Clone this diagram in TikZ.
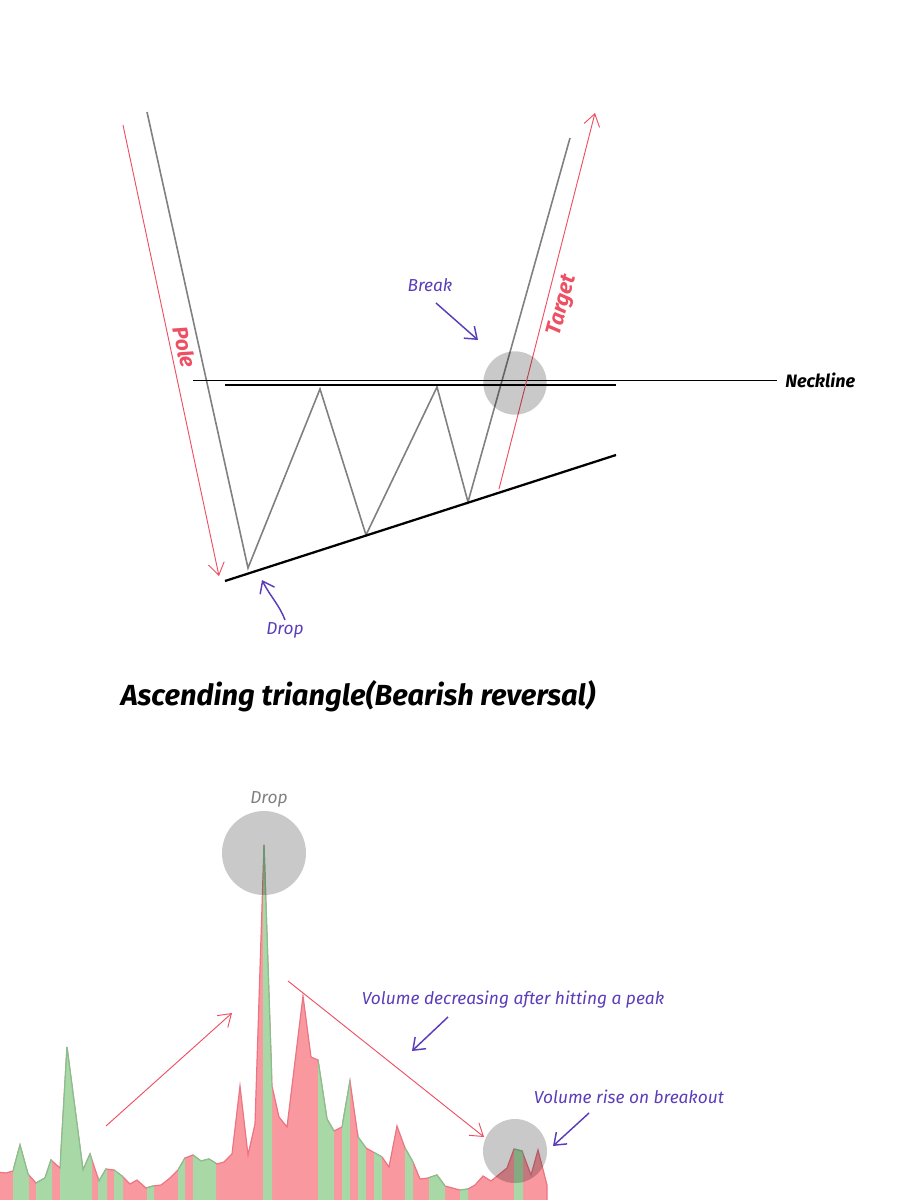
\documentclass[tikz,border=0pt]{standalone}
\usepackage{fontspec}
\setmainfont{Fira Sans}
\usetikzlibrary{arrows.meta}
\definecolor{volpink}{HTML}{F9989F}
\definecolor{volpinkline}{HTML}{EC7483}
\definecolor{volgreen}{HTML}{A8D8A6}
\definecolor{volgreenline}{HTML}{86C08E}
\definecolor{arrowred}{HTML}{EE4F62}
\definecolor{notepurple}{HTML}{5B3DB8}
\definecolor{pricegray}{HTML}{808080}
\newcommand{\volpath}{(-3,1203) -- (-3,1172) -- (6,1173) -- (13,1171) -- (20,1145) -- (28,1174) -- (36,1183) -- (45,1178) -- (51,1160) -- (60,1168) -- (67,1047) -- (83,1170) -- (90,1154) -- (99,1181) -- (106,1169) -- (114,1170) -- (122,1176) -- (130,1184) -- (137,1180) -- (146,1188) -- (153,1186) -- (161,1185) -- (170,1178) -- (178,1170) -- (185,1158) -- (193,1155) -- (201,1161) -- (209,1159) -- (217,1164) -- (224,1162) -- (232,1154) -- (240,1086) -- (248,1155) -- (255,1124) -- (264,845) -- (272,1086) -- (279,1117) -- (287,1127) -- (303,996) -- (311,1057) -- (318,1060) -- (327,1119) -- (334,1131) -- (342,1127) -- (350,1081) -- (358,1137) -- (366,1148) -- (382,1157) -- (389,1167) -- (397,1126) -- (405,1148) -- (413,1162) -- (420,1179) -- (428,1178) -- (437,1175) -- (445,1186) -- (460,1190) -- (468,1189) -- (475,1185) -- (483,1176) -- (491,1181) -- (507,1168) -- (514,1149) -- (522,1151) -- (531,1175) -- (538,1150) -- (547,1185) -- (547,1203)}
\begin{document}
\begin{tikzpicture}[x=0.75pt,y=-0.75pt]
\tikzstyle{price} = [draw=pricegray, line width=1.2pt]
\tikzstyle{trendline} = [draw=black, line width=1.7pt]
\tikzstyle{measure} = [draw=arrowred, line width=0.7pt, -{Straight Barb[length=9pt,width=12pt]}]
\tikzstyle{note} = [draw=notepurple, line width=1.1pt, -{Straight Barb[length=8pt,width=12pt]}]
\tikzstyle{zone} = [circle, fill=black, fill opacity=0.21, inner sep=0pt]
\tikzstyle{notetext} = [text=notepurple, font=\itshape\fontsize{13}{15}\selectfont, inner sep=0pt]
\tikzstyle{redtext} = [text=arrowred, font=\itshape\bfseries\fontsize{16}{18}\selectfont, inner sep=0pt]
\useasboundingbox (0,0) rectangle (899,1200);

% volume
\fill[volpink] \volpath;
\draw[volpinkline, line width=0.9pt] \volpath;
\foreach \a/\b in {13/29, 36/52, 60/92, 98/107, 114/123, 147/154, 178/185, 193/216, 263/272, 318/334, 342/350, 358/366, 374/382, 405/413, 429/445, 460/468, 514/523} {
  \begin{scope}
    \clip (\a,800) rectangle (\b,1200);
    \fill[volgreen] \volpath;
    \draw[volgreenline, line width=0.9pt] \volpath;
  \end{scope}
}

% pattern
\coordinate (p0) at (147,112);
\coordinate (p1) at (248,568);
\coordinate (p2) at (320,389);
\coordinate (p3) at (366,535);
\coordinate (p4) at (437,387);
\coordinate (p5) at (468,502);
\coordinate (p6) at (570,138);
\draw[price] (p0) -- (p1) -- (p2) -- (p3) -- (p4) -- (p5) -- (p6);

\coordinate (neckA) at (193,380);
\coordinate (neckB) at (777,380);
\node[anchor=west, inner sep=0pt, font=\itshape\bfseries\fontsize{13.5}{15}\selectfont] (neck) at (785,380) {Neckline};
\draw[black, line width=0.6pt] (neckA) -- (neckB);

\coordinate (resA) at (225,385);
\coordinate (resB) at (616,385);
\coordinate (supA) at (225,581);
\coordinate (supB) at (616,455);
\draw[trendline] (resA) -- (resB);
\draw[trendline] (supA) -- (supB);

\coordinate (poleA) at (123,125);
\coordinate (poleB) at (219,576);
\coordinate (targetA) at (499,489);
\coordinate (targetB) at (595,113);
\draw[measure] (poleA) -- (poleB);
\draw[measure] (targetA) -- (targetB);
\node[redtext, rotate=-78] (pole) at (185,347) {Pole};
\node[redtext, rotate=75] (target) at (563,305) {Target};

\node[zone, minimum size=47.5pt] (breakzone) at (515,383) {};

% labels
\node[notetext] (break) at (430,285) {Break};
\coordinate (breakA) at (436,303);
\coordinate (breakB) at (478,340);
\draw[note] (breakA) -- (breakB);

\node[notetext] (drop) at (285,630) {Drop};
\coordinate (dropA) at (285,620);
\coordinate (dropB) at (262,580);
\draw[note] (dropA) .. controls (280,606) and (270,596) .. (dropB);

\node[inner sep=0pt, font=\itshape\bfseries\fontsize{21.8}{26}\selectfont] (title) at (358,696) {Ascending triangle(Bearish reversal)};

% volume notes
\node[zone, minimum size=63pt] (peakzone) at (264,853) {};
\node[zone, minimum size=48pt] (risezone) at (515,1151) {};
\node[notetext, text=pricegray] (peak) at (269,799) {Drop};

\coordinate (upA) at (106,1126);
\coordinate (upB) at (232,1013);
\coordinate (downA) at (288,981);
\coordinate (downB) at (484,1137);
\draw[measure] (upA) -- (upB);
\draw[measure] (downA) -- (downB);

\node[notetext] (decrease) at (513,1000) {Volume decreasing after hitting a peak};
\coordinate (decA) at (448,1017);
\coordinate (decB) at (412,1051);
\draw[note] (decA) -- (decB);

\node[notetext] (rise) at (629,1097) {Volume rise on breakout};
\coordinate (riseA) at (589,1113);
\coordinate (riseB) at (553,1146);
\draw[note] (riseA) -- (riseB);
\end{tikzpicture}
\end{document}
